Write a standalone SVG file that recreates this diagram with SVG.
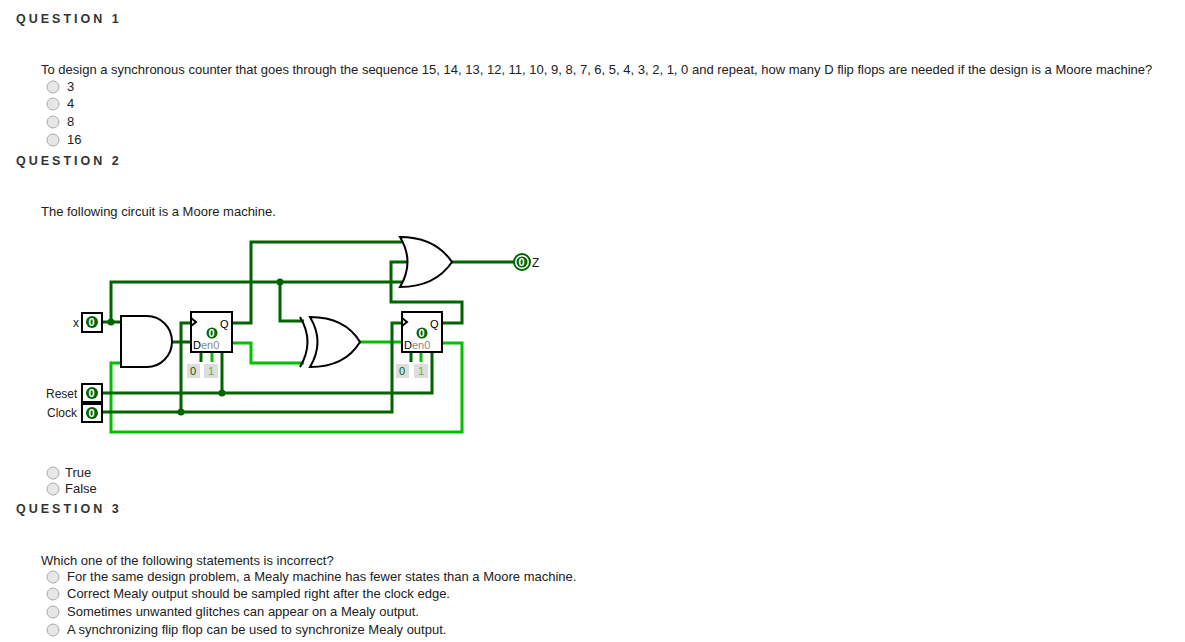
<svg xmlns="http://www.w3.org/2000/svg" width="1185" height="642" viewBox="0 0 1185 642">
<style>
text{font-family:"Liberation Sans",Arial,sans-serif;fill:#222;font-size:13px}
.h{font-weight:bold;font-size:12.5px;letter-spacing:3px;fill:#333}
.r{fill:#e6e6e6;stroke:#aaa;stroke-width:1}
.dk{stroke:#006400;stroke-width:3;fill:none;stroke-linejoin:miter}
.lt{stroke:#00c000;stroke-width:3;fill:none}
.g{fill:none;stroke:#000;stroke-width:2}
.box{fill:#fff;stroke:#000;stroke-width:2}
.pin{fill:#006400}
.pt{fill:#fff;font-size:11px;font-weight:bold}
.ff{font-size:11px;fill:#000}
.en{font-size:11px;fill:#888}
.c{fill:#ddd}
.cd{font-size:11px;fill:#006400}
.cl{font-size:11px;fill:#33cc33}
.sm{font-size:12px}
</style>
<text class="h" x="16" y="23">QUESTION 1</text>
<text x="41" y="74">To design a synchronous counter that goes through the sequence 15, 14, 13, 12, 11, 10, 9, 8, 7, 6, 5, 4, 3, 2, 1, 0 and repeat, how many D flip flops are needed if the design is a Moore machine?</text>
<circle class="r" cx="53" cy="87" r="6"/><text x="67" y="91">3</text>
<circle class="r" cx="53" cy="104" r="6"/><text x="67" y="108">4</text>
<circle class="r" cx="53" cy="122" r="6"/><text x="67" y="126">8</text>
<circle class="r" cx="53" cy="140" r="6"/><text x="67" y="144">16</text>
<text class="h" x="16" y="165">QUESTION 2</text>
<text x="41" y="216">The following circuit is a Moore machine.</text>
<circle class="r" cx="53" cy="473" r="6"/><text x="65" y="477">True</text>
<circle class="r" cx="53" cy="489" r="6"/><text x="65" y="493">False</text>
<text class="h" x="16" y="513">QUESTION 3</text>
<text x="41" y="565">Which one of the following statements is incorrect?</text>
<circle class="r" cx="53" cy="577" r="6"/><text x="67" y="581">For the same design problem, a Mealy machine has fewer states than a Moore machine.</text>
<circle class="r" cx="53" cy="594" r="6"/><text x="67" y="598">Correct Mealy output should be sampled right after the clock edge.</text>
<circle class="r" cx="53" cy="612" r="6"/><text x="67" y="616">Sometimes unwanted glitches can appear on a Mealy output.</text>
<circle class="r" cx="53" cy="630" r="6"/><text x="67" y="634">A synchronizing flip flop can be used to synchronize Mealy output.</text>

<g id="connectors">
<polyline class="dk" points="232,323 251,323 251,242 405,242"/>
<polyline class="dk" points="111,322 111,282 405,282"/>
<polyline class="dk" points="280,282 280,321 304,321"/>
<polyline class="dk" points="102,322 122,322"/>
<polyline class="dk" points="172,342 191,342"/>
<polyline class="lt" points="232,343 251,343 251,363 304,363"/>
<polyline class="lt" points="359,342 402,342"/>
<polyline class="lt" points="122,363 111,363 111,432 462,432 462,343 442,343"/>
<polyline class="dk" points="442,323 462,323 462,302 391,302 391,262 407,262"/>
<polyline class="dk" points="452,262 514,262"/>
<polyline class="dk" points="102,393 432,393 432,352"/>
<polyline class="dk" points="222,352 222,393"/>
<polyline class="dk" points="102,412 392,412 392,323 402,323"/>
<polyline class="dk" points="181,412 181,323 191,323"/>
<polyline class="dk" points="201,352 201,362"/><polyline class="lt" points="212,352 212,362"/>
<polyline class="dk" points="411,352 411,362"/><polyline class="lt" points="421,352 421,362"/>
<circle cx="111" cy="322" r="3.5" class="pin"/><circle cx="280" cy="282" r="3.5" class="pin"/>
<circle cx="222" cy="393" r="3.5" class="pin"/><circle cx="181" cy="412" r="3.5" class="pin"/>
</g>

<g id="in-x"><text class="sm" x="73" y="327">x</text><rect class="box" x="82" y="313" width="20" height="19"/><circle class="pin" cx="92" cy="322" r="6"/><text class="pt" x="88.5" y="326">0</text></g>
<g id="in-reset"><text class="sm" x="46" y="398">Reset</text><rect class="box" x="82" y="384" width="20" height="18"/><circle class="pin" cx="92" cy="393" r="6"/><text class="pt" x="88.5" y="397">0</text></g>
<g id="in-clock"><text class="sm" x="47" y="417">Clock</text><rect class="box" x="82" y="404" width="20" height="18"/><circle class="pin" cx="92" cy="413" r="6"/><text class="pt" x="88.5" y="417">0</text></g>

<g id="and"><path class="box" d="M121,316 H147 A25,25.5 0 0 1 147,367 H121 Z"/></g>

<g id="ff1">
<rect class="box" x="191" y="312" width="41" height="40"/>
<path class="g" stroke-width="1.5" d="M191,318 L196,322 L191,326"/>
<text class="ff" x="220" y="328">Q</text>
<circle class="pin" cx="212" cy="333" r="5.5"/><text class="pt" x="208.5" y="337">0</text>
<text class="ff" x="193" y="349">D</text><text class="en" x="201" y="349">en0</text>
<rect class="c" x="187" y="364" width="13" height="14"/><text class="cd" x="190" y="375">0</text>
<rect class="c" x="204" y="364" width="14" height="14"/><text class="cl" x="208" y="375">1</text>
</g>
<g id="ff2">
<rect class="box" x="402" y="312" width="40" height="40"/>
<path class="g" stroke-width="1.5" d="M402,318 L407,322 L402,326"/>
<text class="ff" x="430" y="328">Q</text>
<circle class="pin" cx="422" cy="333" r="5.5"/><text class="pt" x="418.5" y="337">0</text>
<text class="ff" x="404" y="349">D</text><text class="en" x="412" y="349">en0</text>
<rect class="c" x="396" y="364" width="13" height="14"/><text class="cd" x="399" y="375">0</text>
<rect class="c" x="414" y="364" width="14" height="14"/><text class="cl" x="418" y="375">1</text>
</g>
<g id="xor">
<path class="g" d="M300,317 Q315,342 300,367"/>
<path class="box" d="M310,317 Q345,317 360,342 Q345,367 310,367 Q325,342 310,317 Z"/>
</g>
<g id="or">
<path class="box" d="M400,237 Q435,237 452,262 Q435,287 400,287 Q415,262 400,237 Z"/>
</g>
<g id="out-z">
<circle cx="522" cy="262" r="8" fill="#fff" stroke="#006400" stroke-width="2"/>
<circle class="pin" cx="522" cy="262" r="5.5"/><text class="pt" x="518.5" y="266">0</text>
<text class="sm" x="532" y="267" fill="#000">Z</text>
</g>
</svg>
